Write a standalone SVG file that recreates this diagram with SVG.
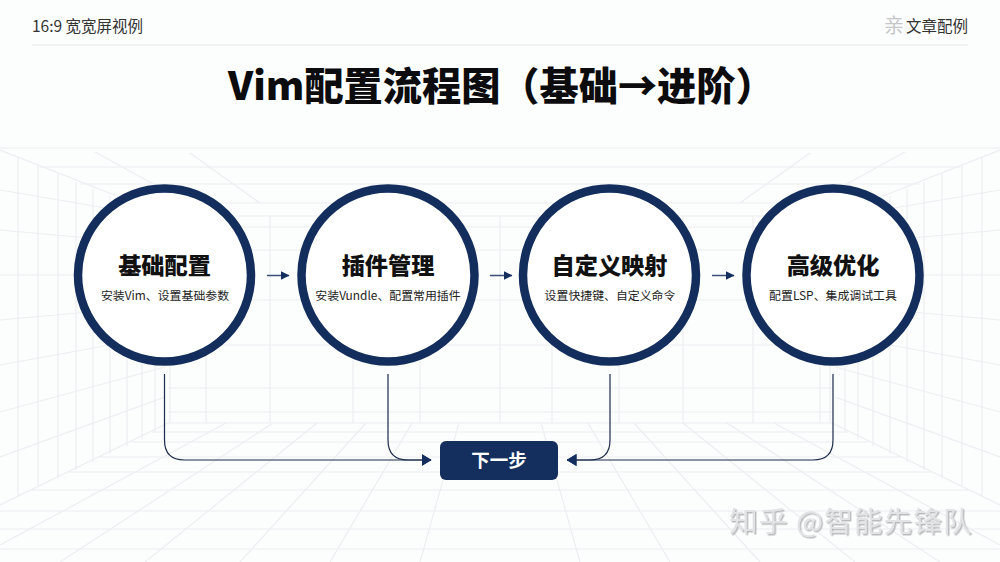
<svg xmlns="http://www.w3.org/2000/svg" width="1000" height="562" viewBox="0 0 1000 562">
<style>
text{font-family:"Noto Sans CJK SC","Noto Sans",sans-serif}
.g{fill:none;stroke:#eceef1;stroke-width:1.2}
.ring{fill:#fff;stroke:#132e5c;stroke-width:8.500}
.t{font-size:23.200px;font-weight:900;fill:#111;text-anchor:middle}
.s{font-size:11.900px;fill:#222;text-anchor:middle}
.h{font-size:15.500px;fill:#333}
.c{fill:none;stroke:#1c2c4a;stroke-width:1.2}
.a{fill:none;stroke:#3a4f75;stroke-width:1.5}
</style>
<defs>
<marker id="ah" markerUnits="userSpaceOnUse" markerWidth="10" markerHeight="12" refX="9.500" refY="6" orient="auto"><path d="M0 0L10 6L0 12Z" fill="#142f5e"/></marker>
<marker id="as" markerUnits="userSpaceOnUse" markerWidth="9" markerHeight="10" refX="8.500" refY="5" orient="auto"><path d="M0 0.500L9 5L0 9.500Z" fill="#142f5e"/></marker>
<filter id="emb" x="-5%" y="-20%" width="110%" height="140%"><feDropShadow dx="1.500" dy="1.500" stdDeviation="0.400" flood-color="#a9abaf" flood-opacity="0.8"/></filter>
</defs>
<rect width="1000" height="562" fill="#fcfdfd"/>
<g id="background">
<path class="g" d="M0 148H1000M40 167H960M80 184H920M130 203H870M168 216H832M168 227H832M168 250H832M168 300H832M168 345H832M168 388H832M168 412H832M168 423H832"/>
<path class="g" d="M0 150L168 216M95 152L168 192M190 153L260 203M1000 150L832 216M905 152L832 192M810 153L740 203"/>
<path class="g" d="M170 216V423M206 216V423M270 216V423M353 216V423M420 216V423M500 216V423M552 216V423M619 216V423M683 216V423M753 216V423M820 216V423M830 216V423"/>
<path class="g" d="M18 158V497M38 166V487M58 174V478M76 182V470M93 189V462M110 196V454M127 203V446M142 210V439M155 215V433M982 158V497M962 166V487M942 174V478M924 182V470M907 189V462M890 196V454M873 203V446M858 210V439M845 215V433"/>
<path class="g" d="M0 190L165 218M0 230L165 245M0 275H165M0 320L165 305M0 365L165 335M0 412L165 367M0 457L165 397M1000 190L835 218M1000 230L835 245M1000 275H835M1000 320L835 305M1000 365L835 335M1000 412L835 367M1000 457L835 397"/>
<path class="g" d="M0 505L168 423M1000 505L832 423M152 432H848M132 442H868M100 457H900M68 472H932M30 490H970M0 511H1000M0 529H1000M0 549H1000"/>
<path class="g" d="M0 545L226 423M60 562L273 423M145 562L317 423M240 562L366 423M330 562L412 423M420 562L459 423M1000 545L774 423M940 562L727 423M855 562L683 423M760 562L634 423M670 562L588 423M580 562L541 423"/>
</g>
<g id="header">
<text class="h" x="32" y="32">16:9 宽宽屏视例</text>
<text x="884" y="33" font-size="20" fill="#c4c6ca">亲</text>
<text class="h" x="906" y="32">文章配例</text>
<path d="M32 45H968" stroke="#e6e8ec" stroke-width="1"/>
</g>
<text id="title" x="228" y="100" font-size="39.200" font-weight="900" fill="#0c0c0e">Vim配置流程图（基础→进阶）</text>
<g id="connectors">
<path class="a" marker-end="url(#as)" d="M267 275.500H289"/>
<path class="a" marker-end="url(#as)" d="M490 275.500H512"/>
<path class="a" marker-end="url(#as)" d="M712 275.500H734"/>
<path class="c" marker-end="url(#ah)" d="M164.500 374V440Q164.500 460 184.500 460H431"/>
<path class="c" marker-end="url(#ah)" d="M388 374V440Q388 460 408 460H431"/>
<path class="c" marker-end="url(#ah)" d="M610 374V440Q610 460 590 460H567"/>
<path class="c" marker-end="url(#ah)" d="M833 374V440Q833 460 813 460H567"/>
</g>
<g id="node1"><circle class="ring" cx="164.500" cy="275" r="86.500"/><text class="t" x="164.500" y="274">基础配置</text><text class="s" x="165" y="300">安装Vim、设置基础参数</text></g>
<g id="node2"><circle class="ring" cx="388" cy="275" r="86.500"/><text class="t" x="388" y="274">插件管理</text><text class="s" x="388" y="300">安装Vundle、配置常用插件</text></g>
<g id="node3"><circle class="ring" cx="609.500" cy="275" r="86.500"/><text class="t" x="609.500" y="274">自定义映射</text><text class="s" x="610" y="300">设置快捷键、自定义命令</text></g>
<g id="node4"><circle class="ring" cx="833" cy="275" r="86.500"/><text class="t" x="833" y="274">高级优化</text><text class="s" x="833" y="300">配置LSP、集成调试工具</text></g>
<g id="next"><rect x="440" y="441" width="118" height="39" rx="6" fill="#142f5e"/><text x="499" y="467" font-size="18.500" font-weight="700" fill="#fff" text-anchor="middle">下一步</text></g>
<text id="watermark" x="729" y="532" font-size="28.500" letter-spacing="1.200" fill="#e2e3e5" filter="url(#emb)">知乎 @智能先锋队</text>
</svg>
